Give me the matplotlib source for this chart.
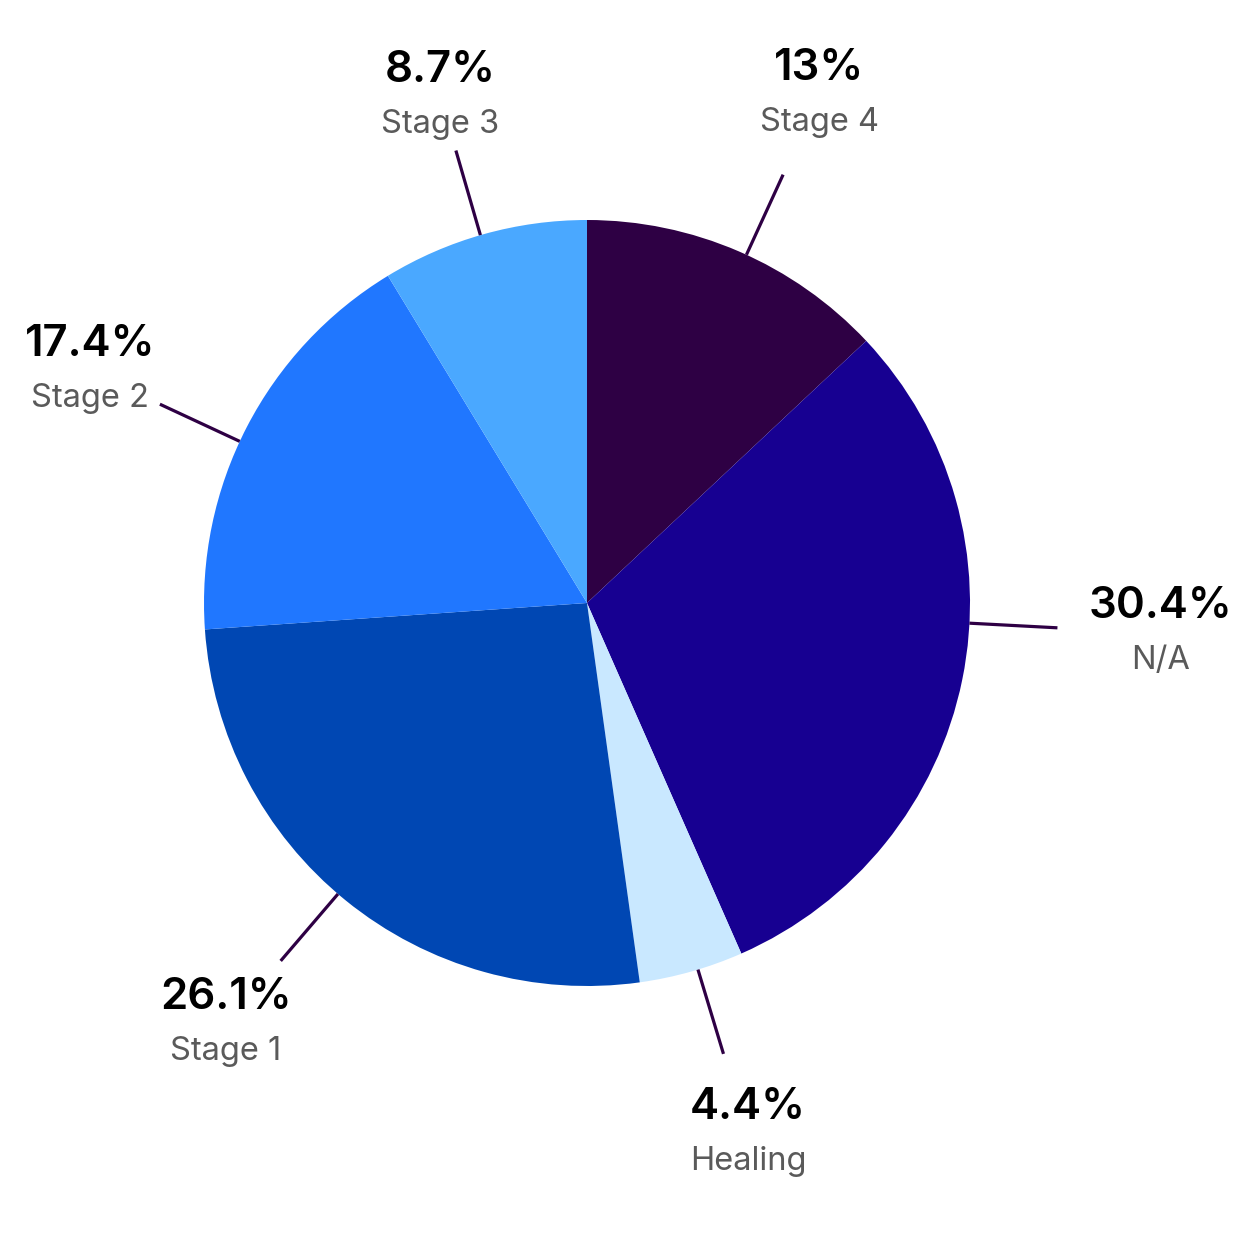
import numpy as np
import matplotlib.pyplot as plt

# Data (clockwise from the top)
categories = ['Stage 4', 'N/A', 'Healing', 'Stage 1', 'Stage 2', 'Stage 3']
shares = [13, 30.4, 4.4, 26.1, 17.4, 8.7]
colors = ['#2E0044', '#170091', '#C9E8FF', '#0047B3', '#2077FF', '#4AA8FF']

# label layout only: angle nudge (degrees, clockwise) and label distance
label_nudge = [1.2, -8.5, -1, 1.5, -2.4, -0.5]
label_dist = [1.457, 1.50, 1.45, 1.45, 1.43, 1.375]

plt.rcParams['font.family'] = ['Inter', 'DejaVu Sans']

fig = plt.figure(figsize=(12.51, 12.34), dpi=100)
ax = fig.add_axes([0, 0, 1, 1])

wedges, _ = ax.pie(shares, colors=colors, startangle=90, counterclock=False,
                   radius=1, wedgeprops=dict(linewidth=0))

# leader lines and labels
total = sum(shares)
start = 0
for cat, v, nudge, dist in zip(categories, shares, label_nudge, label_dist):
    mid = start + v / 2
    start += v
    ang = np.deg2rad(90 - mid / total * 360 - nudge)
    dx, dy = np.cos(ang), np.sin(ang)
    ax.plot([dx * 1.0, dx * 1.23], [dy * 1.0, dy * 1.23],
            color='#2E0044', linewidth=2.3, solid_capstyle='butt')
    x, y = dx * dist, dy * dist
    ax.annotate(f'{v:g}%', xy=(x, y), xytext=(0, 27), textcoords='offset pixels',
                ha='center', va='center', fontsize=31.5, fontweight='semibold',
                color='#000000')
    ax.annotate(cat, xy=(x, y), xytext=(0, -27), textcoords='offset pixels',
                ha='center', va='center', fontsize=23.5, color='#5A5A5A')

R = 383.0
ax.set_xlim(-587 / R, (1251 - 587) / R)
ax.set_ylim(-(1234 - 603) / R, 603 / R)
ax.set_aspect('auto')
ax.axis('off')

fig.savefig('out.png', dpi=100, facecolor='white')
